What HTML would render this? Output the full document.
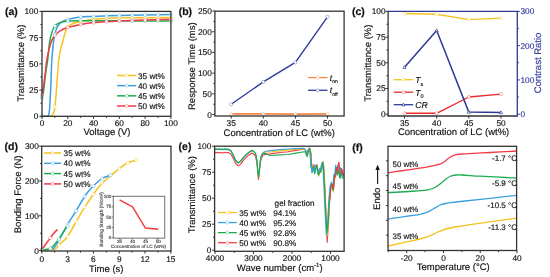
<!DOCTYPE html>
<html><head><meta charset="utf-8"><style>
html,body{margin:0;padding:0;background:#fff;width:550px;height:277px;overflow:hidden}
svg{display:block;filter:blur(0.3px)}
text{font-family:"Liberation Sans",sans-serif;text-rendering:geometricPrecision}
</style></head><body>
<svg width="550" height="277" viewBox="0 0 550 277" font-family="Liberation Sans, sans-serif">
<rect width="550" height="277" fill="#fff"/>
<text x="5" y="14.8" font-size="10.5" text-anchor="start" fill="#111" stroke="#111" stroke-width="0.2" font-weight="bold" font-style="normal" >(a)</text>
<path d="M42,116.3 C43.4,116.3 48.66,116.47 50.38,116.3 C52.1,116.13 51.71,116.04 52.31,115.25 C52.91,114.46 53.52,113.21 53.99,111.58 C54.46,109.95 54.68,109.95 55.15,105.5 C55.62,101.04 56.22,92.38 56.82,84.83 C57.43,77.28 58.11,66.12 58.76,60.18 C59.4,54.23 60.05,52.15 60.69,49.16 C61.34,46.17 61.87,45.04 62.62,42.24 C63.38,39.44 64.34,34.95 65.2,32.38 C66.06,29.81 66.49,28.31 67.78,26.82 C69.07,25.33 70.79,24.34 72.94,23.46 C75.08,22.59 77.23,22.29 80.67,21.58 C84.11,20.86 88.19,19.74 93.56,19.16 C98.93,18.59 106.45,18.34 112.89,18.11 C119.34,17.89 122.56,17.89 132.23,17.8 C141.9,17.71 164.46,17.62 170.9,17.59" fill="none" stroke="#F5C21B" stroke-width="1.5" stroke-linejoin="round" />
<path d="M42,116.3 C42.92,116.3 46.47,116.44 47.54,116.3 C48.62,116.16 48.12,116.51 48.45,115.46 C48.77,114.41 49.11,114.24 49.48,110.01 C49.84,105.78 50.25,98.38 50.64,90.07 C51.02,81.77 51.32,68.15 51.8,60.18 C52.27,52.21 52.96,46.61 53.47,42.24 C53.99,37.87 54.22,36.56 54.89,33.95 C55.56,31.35 56.39,28.59 57.47,26.61 C58.54,24.63 59.62,23.31 61.34,22.1 C63.05,20.89 64.56,20.23 67.78,19.37 C71,18.52 76.37,17.45 80.67,16.96 C84.97,16.47 87.12,16.66 93.56,16.44 C100,16.21 106.45,15.91 119.34,15.6 C132.23,15.28 162.31,14.72 170.9,14.55" fill="none" stroke="#3BA0DD" stroke-width="1.5" stroke-linejoin="round" />
<path d="M42,97.84 C42.21,97.07 42.82,96.09 43.29,93.22 C43.76,90.35 44.34,84.66 44.84,80.63 C45.33,76.61 45.78,72.5 46.25,69.09 C46.73,65.69 47.11,64.65 47.67,60.18 C48.23,55.7 48.87,46.96 49.61,42.24 C50.34,37.52 51.17,34.55 52.05,31.86 C52.94,29.16 53.77,27.54 54.89,26.09 C56.01,24.63 56.61,23.99 58.76,23.15 C60.91,22.31 64.13,21.47 67.78,21.05 C71.43,20.63 72.08,20.67 80.67,20.63 C89.26,20.6 104.3,20.77 119.34,20.84 C134.38,20.91 162.31,21.02 170.9,21.05" fill="none" stroke="#1EAA50" stroke-width="1.5" stroke-linejoin="round" />
<path d="M42,94.69 C42.21,93.57 42.82,91.02 43.29,87.98 C43.76,84.93 44.26,81.07 44.84,76.44 C45.42,71.8 46.06,64.72 46.77,60.18 C47.48,55.63 48.27,52.4 49.09,49.16 C49.91,45.93 50.7,43.04 51.67,40.77 C52.63,38.5 53.49,37.19 54.89,35.53 C56.29,33.87 57.9,32.14 60.05,30.81 C62.19,29.48 64.34,28.6 67.78,27.55 C71.22,26.51 76.24,25.33 80.67,24.51 C85.1,23.69 87.89,23.2 94.33,22.62 C100.78,22.05 110.88,21.49 119.34,21.05 C127.8,20.61 136.53,20.3 145.12,20 C153.71,19.7 166.6,19.39 170.9,19.27" fill="none" stroke="#F23A45" stroke-width="1.5" stroke-linejoin="round" />
<circle cx="42" cy="116.3" r="1.6" fill="#fff" stroke="#F5C21B" stroke-width="0.35"/>
<circle cx="54.89" cy="106.85" r="1.6" fill="#fff" stroke="#F5C21B" stroke-width="0.35"/>
<circle cx="67.78" cy="26.82" r="1.6" fill="#fff" stroke="#F5C21B" stroke-width="0.35"/>
<circle cx="80.67" cy="21.58" r="1.6" fill="#fff" stroke="#F5C21B" stroke-width="0.35"/>
<circle cx="93.56" cy="19.16" r="1.6" fill="#fff" stroke="#F5C21B" stroke-width="0.35"/>
<circle cx="106.45" cy="18.46" r="1.6" fill="#fff" stroke="#F5C21B" stroke-width="0.35"/>
<circle cx="119.34" cy="18.01" r="1.6" fill="#fff" stroke="#F5C21B" stroke-width="0.35"/>
<circle cx="132.23" cy="17.8" r="1.6" fill="#fff" stroke="#F5C21B" stroke-width="0.35"/>
<circle cx="145.12" cy="17.73" r="1.6" fill="#fff" stroke="#F5C21B" stroke-width="0.35"/>
<circle cx="158.01" cy="17.66" r="1.6" fill="#fff" stroke="#F5C21B" stroke-width="0.35"/>
<circle cx="170.9" cy="17.59" r="1.6" fill="#fff" stroke="#F5C21B" stroke-width="0.35"/>
<circle cx="42" cy="116.3" r="1.6" fill="#fff" stroke="#3BA0DD" stroke-width="0.35"/>
<circle cx="54.89" cy="33.95" r="1.6" fill="#fff" stroke="#3BA0DD" stroke-width="0.35"/>
<circle cx="67.78" cy="19.37" r="1.6" fill="#fff" stroke="#3BA0DD" stroke-width="0.35"/>
<circle cx="80.67" cy="16.96" r="1.6" fill="#fff" stroke="#3BA0DD" stroke-width="0.35"/>
<circle cx="93.56" cy="16.44" r="1.6" fill="#fff" stroke="#3BA0DD" stroke-width="0.35"/>
<circle cx="106.45" cy="16.02" r="1.6" fill="#fff" stroke="#3BA0DD" stroke-width="0.35"/>
<circle cx="119.34" cy="15.6" r="1.6" fill="#fff" stroke="#3BA0DD" stroke-width="0.35"/>
<circle cx="132.23" cy="15.33" r="1.6" fill="#fff" stroke="#3BA0DD" stroke-width="0.35"/>
<circle cx="145.12" cy="15.07" r="1.6" fill="#fff" stroke="#3BA0DD" stroke-width="0.35"/>
<circle cx="158.01" cy="14.81" r="1.6" fill="#fff" stroke="#3BA0DD" stroke-width="0.35"/>
<circle cx="170.9" cy="14.55" r="1.6" fill="#fff" stroke="#3BA0DD" stroke-width="0.35"/>
<circle cx="42" cy="97.84" r="1.6" fill="#fff" stroke="#1EAA50" stroke-width="0.35"/>
<circle cx="54.89" cy="26.09" r="1.6" fill="#fff" stroke="#1EAA50" stroke-width="0.35"/>
<circle cx="67.78" cy="21.05" r="1.6" fill="#fff" stroke="#1EAA50" stroke-width="0.35"/>
<circle cx="80.67" cy="20.63" r="1.6" fill="#fff" stroke="#1EAA50" stroke-width="0.35"/>
<circle cx="93.56" cy="20.7" r="1.6" fill="#fff" stroke="#1EAA50" stroke-width="0.35"/>
<circle cx="106.45" cy="20.77" r="1.6" fill="#fff" stroke="#1EAA50" stroke-width="0.35"/>
<circle cx="119.34" cy="20.84" r="1.6" fill="#fff" stroke="#1EAA50" stroke-width="0.35"/>
<circle cx="132.23" cy="20.89" r="1.6" fill="#fff" stroke="#1EAA50" stroke-width="0.35"/>
<circle cx="145.12" cy="20.95" r="1.6" fill="#fff" stroke="#1EAA50" stroke-width="0.35"/>
<circle cx="158.01" cy="21" r="1.6" fill="#fff" stroke="#1EAA50" stroke-width="0.35"/>
<circle cx="170.9" cy="21.05" r="1.6" fill="#fff" stroke="#1EAA50" stroke-width="0.35"/>
<circle cx="42" cy="94.69" r="1.6" fill="#fff" stroke="#F23A45" stroke-width="0.35"/>
<circle cx="54.89" cy="35.53" r="1.6" fill="#fff" stroke="#F23A45" stroke-width="0.35"/>
<circle cx="67.78" cy="27.55" r="1.6" fill="#fff" stroke="#F23A45" stroke-width="0.35"/>
<circle cx="80.67" cy="24.51" r="1.6" fill="#fff" stroke="#F23A45" stroke-width="0.35"/>
<circle cx="93.56" cy="22.73" r="1.6" fill="#fff" stroke="#F23A45" stroke-width="0.35"/>
<circle cx="106.45" cy="21.86" r="1.6" fill="#fff" stroke="#F23A45" stroke-width="0.35"/>
<circle cx="119.34" cy="21.05" r="1.6" fill="#fff" stroke="#F23A45" stroke-width="0.35"/>
<circle cx="132.23" cy="20.53" r="1.6" fill="#fff" stroke="#F23A45" stroke-width="0.35"/>
<circle cx="145.12" cy="20" r="1.6" fill="#fff" stroke="#F23A45" stroke-width="0.35"/>
<circle cx="158.01" cy="19.63" r="1.6" fill="#fff" stroke="#F23A45" stroke-width="0.35"/>
<circle cx="170.9" cy="19.27" r="1.6" fill="#fff" stroke="#F23A45" stroke-width="0.35"/>
<rect x="42" y="11.4" width="128.9" height="104.9" fill="none" stroke="#333" stroke-width="1.3"/>
<line x1="42" y1="116.3" x2="42" y2="118.9" stroke="#333" stroke-width="1.0" />
<text x="42" y="126.2" font-size="8.3" text-anchor="middle" fill="#111" stroke="#111" stroke-width="0.15" font-weight="normal" font-style="normal" >0</text>
<line x1="67.78" y1="116.3" x2="67.78" y2="118.9" stroke="#333" stroke-width="1.0" />
<text x="67.78" y="126.2" font-size="8.3" text-anchor="middle" fill="#111" stroke="#111" stroke-width="0.15" font-weight="normal" font-style="normal" >20</text>
<line x1="93.56" y1="116.3" x2="93.56" y2="118.9" stroke="#333" stroke-width="1.0" />
<text x="93.56" y="126.2" font-size="8.3" text-anchor="middle" fill="#111" stroke="#111" stroke-width="0.15" font-weight="normal" font-style="normal" >40</text>
<line x1="119.34" y1="116.3" x2="119.34" y2="118.9" stroke="#333" stroke-width="1.0" />
<text x="119.34" y="126.2" font-size="8.3" text-anchor="middle" fill="#111" stroke="#111" stroke-width="0.15" font-weight="normal" font-style="normal" >60</text>
<line x1="145.12" y1="116.3" x2="145.12" y2="118.9" stroke="#333" stroke-width="1.0" />
<text x="145.12" y="126.2" font-size="8.3" text-anchor="middle" fill="#111" stroke="#111" stroke-width="0.15" font-weight="normal" font-style="normal" >80</text>
<line x1="170.9" y1="116.3" x2="170.9" y2="118.9" stroke="#333" stroke-width="1.0" />
<text x="170.9" y="126.2" font-size="8.3" text-anchor="middle" fill="#111" stroke="#111" stroke-width="0.15" font-weight="normal" font-style="normal" >100</text>
<line x1="54.89" y1="116.3" x2="54.89" y2="117.9" stroke="#333" stroke-width="1.0" />
<line x1="80.67" y1="116.3" x2="80.67" y2="117.9" stroke="#333" stroke-width="1.0" />
<line x1="106.45" y1="116.3" x2="106.45" y2="117.9" stroke="#333" stroke-width="1.0" />
<line x1="132.23" y1="116.3" x2="132.23" y2="117.9" stroke="#333" stroke-width="1.0" />
<line x1="158.01" y1="116.3" x2="158.01" y2="117.9" stroke="#333" stroke-width="1.0" />
<line x1="42" y1="116.3" x2="39.4" y2="116.3" stroke="#333" stroke-width="1.0" />
<text x="38.3" y="119.29" font-size="8.3" text-anchor="end" fill="#111" stroke="#111" stroke-width="0.15" font-weight="normal" font-style="normal" >0</text>
<line x1="42" y1="90.07" x2="39.4" y2="90.07" stroke="#333" stroke-width="1.0" />
<text x="38.3" y="93.06" font-size="8.3" text-anchor="end" fill="#111" stroke="#111" stroke-width="0.15" font-weight="normal" font-style="normal" >25</text>
<line x1="42" y1="63.85" x2="39.4" y2="63.85" stroke="#333" stroke-width="1.0" />
<text x="38.3" y="66.84" font-size="8.3" text-anchor="end" fill="#111" stroke="#111" stroke-width="0.15" font-weight="normal" font-style="normal" >50</text>
<line x1="42" y1="37.62" x2="39.4" y2="37.62" stroke="#333" stroke-width="1.0" />
<text x="38.3" y="40.61" font-size="8.3" text-anchor="end" fill="#111" stroke="#111" stroke-width="0.15" font-weight="normal" font-style="normal" >75</text>
<line x1="42" y1="11.4" x2="39.4" y2="11.4" stroke="#333" stroke-width="1.0" />
<text x="38.3" y="14.39" font-size="8.3" text-anchor="end" fill="#111" stroke="#111" stroke-width="0.15" font-weight="normal" font-style="normal" >100</text>
<line x1="42" y1="103.19" x2="40.4" y2="103.19" stroke="#333" stroke-width="1.0" />
<line x1="42" y1="76.96" x2="40.4" y2="76.96" stroke="#333" stroke-width="1.0" />
<line x1="42" y1="50.74" x2="40.4" y2="50.74" stroke="#333" stroke-width="1.0" />
<line x1="42" y1="24.51" x2="40.4" y2="24.51" stroke="#333" stroke-width="1.0" />
<text x="0" y="0" font-size="9.5" text-anchor="middle" fill="#111" stroke="#111" stroke-width="0.15" transform="translate(21.7,63.2) rotate(-90)" dominant-baseline="central">Transmittance (%)</text>
<text x="107" y="135.3" font-size="9.5" text-anchor="middle" fill="#111" stroke="#111" stroke-width="0.15" font-weight="normal" font-style="normal" >Voltage (V)</text>
<line x1="117.1" y1="75.5" x2="136.3" y2="75.5" stroke="#F5C21B" stroke-width="1.5" />
<circle cx="126.6" cy="75.5" r="1.6" fill="#fff" stroke="#F5C21B" stroke-width="0.35"/>
<text x="138" y="78.5" font-size="8.2" text-anchor="start" fill="#111" stroke="#111" stroke-width="0.15" font-weight="normal" font-style="normal" >35 wt%</text>
<line x1="117.1" y1="85.67" x2="136.3" y2="85.67" stroke="#3BA0DD" stroke-width="1.5" />
<circle cx="126.6" cy="85.67" r="1.6" fill="#fff" stroke="#3BA0DD" stroke-width="0.35"/>
<text x="138" y="88.67" font-size="8.2" text-anchor="start" fill="#111" stroke="#111" stroke-width="0.15" font-weight="normal" font-style="normal" >40 wt%</text>
<line x1="117.1" y1="95.84" x2="136.3" y2="95.84" stroke="#1EAA50" stroke-width="1.5" />
<circle cx="126.6" cy="95.84" r="1.6" fill="#fff" stroke="#1EAA50" stroke-width="0.35"/>
<text x="138" y="98.84" font-size="8.2" text-anchor="start" fill="#111" stroke="#111" stroke-width="0.15" font-weight="normal" font-style="normal" >45 wt%</text>
<line x1="117.1" y1="106.01" x2="136.3" y2="106.01" stroke="#F23A45" stroke-width="1.5" />
<circle cx="126.6" cy="106.01" r="1.6" fill="#fff" stroke="#F23A45" stroke-width="0.35"/>
<text x="138" y="109.01" font-size="8.2" text-anchor="start" fill="#111" stroke="#111" stroke-width="0.15" font-weight="normal" font-style="normal" >50 wt%</text>
<text x="178.7" y="14.5" font-size="10.5" text-anchor="start" fill="#111" stroke="#111" stroke-width="0.2" font-weight="bold" font-style="normal" >(b)</text>
<path d="M231.2,113.94 L263.3,113.85 L295.4,114.06 L327.5,113.94" fill="none" stroke="#F5894A" stroke-width="1.8" stroke-linejoin="round" />
<path d="M231.2,104.24 L263.3,81.86 L295.4,62.39 L327.5,16.8" fill="none" stroke="#2E3A98" stroke-width="1.4" stroke-linejoin="round" />
<circle cx="231.2" cy="113.94" r="1.6" fill="#fff" stroke="#F5894A" stroke-width="0.35"/>
<circle cx="263.3" cy="113.85" r="1.6" fill="#fff" stroke="#F5894A" stroke-width="0.35"/>
<circle cx="295.4" cy="114.06" r="1.6" fill="#fff" stroke="#F5894A" stroke-width="0.35"/>
<circle cx="327.5" cy="113.94" r="1.6" fill="#fff" stroke="#F5894A" stroke-width="0.35"/>
<circle cx="231.2" cy="104.24" r="1.6" fill="#fff" stroke="#2E3A98" stroke-width="0.35"/>
<circle cx="263.3" cy="81.86" r="1.6" fill="#fff" stroke="#2E3A98" stroke-width="0.35"/>
<circle cx="295.4" cy="62.39" r="1.6" fill="#fff" stroke="#2E3A98" stroke-width="0.35"/>
<circle cx="327.5" cy="16.8" r="1.6" fill="#fff" stroke="#2E3A98" stroke-width="0.35"/>
<rect x="214.9" y="11.2" width="129.2" height="104.8" fill="none" stroke="#333" stroke-width="1.3"/>
<line x1="231.2" y1="116" x2="231.2" y2="118.6" stroke="#333" stroke-width="1.0" />
<text x="231.2" y="125.7" font-size="8.3" text-anchor="middle" fill="#111" stroke="#111" stroke-width="0.15" font-weight="normal" font-style="normal" >35</text>
<line x1="263.3" y1="116" x2="263.3" y2="118.6" stroke="#333" stroke-width="1.0" />
<text x="263.3" y="125.7" font-size="8.3" text-anchor="middle" fill="#111" stroke="#111" stroke-width="0.15" font-weight="normal" font-style="normal" >40</text>
<line x1="295.4" y1="116" x2="295.4" y2="118.6" stroke="#333" stroke-width="1.0" />
<text x="295.4" y="125.7" font-size="8.3" text-anchor="middle" fill="#111" stroke="#111" stroke-width="0.15" font-weight="normal" font-style="normal" >45</text>
<line x1="327.5" y1="116" x2="327.5" y2="118.6" stroke="#333" stroke-width="1.0" />
<text x="327.5" y="125.7" font-size="8.3" text-anchor="middle" fill="#111" stroke="#111" stroke-width="0.15" font-weight="normal" font-style="normal" >50</text>
<line x1="214.9" y1="114.6" x2="212.3" y2="114.6" stroke="#333" stroke-width="1.0" />
<text x="211.8" y="117.59" font-size="8.3" text-anchor="end" fill="#111" stroke="#111" stroke-width="0.15" font-weight="normal" font-style="normal" >0</text>
<line x1="214.9" y1="93.88" x2="212.3" y2="93.88" stroke="#333" stroke-width="1.0" />
<text x="211.8" y="96.87" font-size="8.3" text-anchor="end" fill="#111" stroke="#111" stroke-width="0.15" font-weight="normal" font-style="normal" >50</text>
<line x1="214.9" y1="73.16" x2="212.3" y2="73.16" stroke="#333" stroke-width="1.0" />
<text x="211.8" y="76.15" font-size="8.3" text-anchor="end" fill="#111" stroke="#111" stroke-width="0.15" font-weight="normal" font-style="normal" >100</text>
<line x1="214.9" y1="52.44" x2="212.3" y2="52.44" stroke="#333" stroke-width="1.0" />
<text x="211.8" y="55.43" font-size="8.3" text-anchor="end" fill="#111" stroke="#111" stroke-width="0.15" font-weight="normal" font-style="normal" >150</text>
<line x1="214.9" y1="31.72" x2="212.3" y2="31.72" stroke="#333" stroke-width="1.0" />
<text x="211.8" y="34.71" font-size="8.3" text-anchor="end" fill="#111" stroke="#111" stroke-width="0.15" font-weight="normal" font-style="normal" >200</text>
<line x1="214.9" y1="11" x2="212.3" y2="11" stroke="#333" stroke-width="1.0" />
<text x="211.8" y="13.99" font-size="8.3" text-anchor="end" fill="#111" stroke="#111" stroke-width="0.15" font-weight="normal" font-style="normal" >250</text>
<line x1="214.9" y1="104.24" x2="213.3" y2="104.24" stroke="#333" stroke-width="1.0" />
<line x1="214.9" y1="83.52" x2="213.3" y2="83.52" stroke="#333" stroke-width="1.0" />
<line x1="214.9" y1="62.8" x2="213.3" y2="62.8" stroke="#333" stroke-width="1.0" />
<line x1="214.9" y1="42.08" x2="213.3" y2="42.08" stroke="#333" stroke-width="1.0" />
<line x1="214.9" y1="21.36" x2="213.3" y2="21.36" stroke="#333" stroke-width="1.0" />
<text x="0" y="0" font-size="9.5" text-anchor="middle" fill="#111" stroke="#111" stroke-width="0.15" transform="translate(192.3,66.2) rotate(-90)" dominant-baseline="central">Response Time (ms)</text>
<text x="279.3" y="136" font-size="9.5" text-anchor="middle" fill="#111" stroke="#111" stroke-width="0.15" font-weight="normal" font-style="normal" >Concentration of LC (wt%)</text>
<line x1="308" y1="77.6" x2="327.5" y2="77.6" stroke="#F5894A" stroke-width="1.3" />
<circle cx="317.7" cy="77.6" r="1.6" fill="#fff" stroke="#F5894A" stroke-width="0.35"/>
<line x1="308" y1="90.3" x2="327.5" y2="90.3" stroke="#2E3A98" stroke-width="1.3" />
<circle cx="317.7" cy="90.3" r="1.6" fill="#fff" stroke="#2E3A98" stroke-width="0.35"/>
<text x="329.8" y="80.6" font-size="8.6" fill="#111" stroke="#111" stroke-width="0.15" font-style="italic">t<tspan font-size="5" dy="2.3" font-style="normal">on</tspan></text>
<text x="329.8" y="93.3" font-size="8.6" fill="#111" stroke="#111" stroke-width="0.15" font-style="italic">t<tspan font-size="5" dy="2.3" font-style="normal">off</tspan></text>
<text x="351.9" y="14.5" font-size="10.5" text-anchor="start" fill="#111" stroke="#111" stroke-width="0.2" font-weight="bold" font-style="normal" >(c)</text>
<path d="M404.5,13.5 L436.67,14.3 L468.84,19.6 L501.01,18.1" fill="none" stroke="#F5C21B" stroke-width="1.4" stroke-linejoin="round" />
<path d="M404.5,113.3 L436.67,113.3 L468.84,97 L501.01,94.1" fill="none" stroke="#EE2A2A" stroke-width="1.4" stroke-linejoin="round" />
<path d="M404.5,67.3 L436.67,30.5 L468.84,112.1 L501.01,112.5" fill="none" stroke="#2E3A98" stroke-width="1.5" stroke-linejoin="round" />
<circle cx="404.5" cy="13.5" r="1.6" fill="#fff" stroke="#F5C21B" stroke-width="0.35"/>
<circle cx="436.67" cy="14.3" r="1.6" fill="#fff" stroke="#F5C21B" stroke-width="0.35"/>
<circle cx="468.84" cy="19.6" r="1.6" fill="#fff" stroke="#F5C21B" stroke-width="0.35"/>
<circle cx="501.01" cy="18.1" r="1.6" fill="#fff" stroke="#F5C21B" stroke-width="0.35"/>
<circle cx="404.5" cy="113.3" r="1.6" fill="#fff" stroke="#EE2A2A" stroke-width="0.35"/>
<circle cx="436.67" cy="113.3" r="1.6" fill="#fff" stroke="#EE2A2A" stroke-width="0.35"/>
<circle cx="468.84" cy="97" r="1.6" fill="#fff" stroke="#EE2A2A" stroke-width="0.35"/>
<circle cx="501.01" cy="94.1" r="1.6" fill="#fff" stroke="#EE2A2A" stroke-width="0.35"/>
<path d="M404.5,65.7 L406.1,68.42 L402.9,68.42 Z" fill="#fff" stroke="#2E3A98" stroke-width="0.7"/>
<path d="M436.67,28.9 L438.27,31.62 L435.07,31.62 Z" fill="#fff" stroke="#2E3A98" stroke-width="0.7"/>
<path d="M468.84,110.5 L470.44,113.22 L467.24,113.22 Z" fill="#fff" stroke="#2E3A98" stroke-width="0.7"/>
<path d="M501.01,110.9 L502.61,113.62 L499.41,113.62 Z" fill="#fff" stroke="#2E3A98" stroke-width="0.7"/>
<line x1="388.1" y1="11.4" x2="388.1" y2="116" stroke="#333" stroke-width="1.3" />
<line x1="387.45" y1="116" x2="517.3" y2="116" stroke="#333" stroke-width="1.3" />
<line x1="387.45" y1="11.4" x2="517.95" y2="11.4" stroke="#2E3A98" stroke-width="1.3" />
<line x1="517.3" y1="11.4" x2="517.3" y2="116.65" stroke="#2E3A98" stroke-width="1.3" />
<line x1="404.5" y1="116" x2="404.5" y2="118.6" stroke="#333" stroke-width="1.0" />
<text x="404.5" y="125.5" font-size="8.3" text-anchor="middle" fill="#111" stroke="#111" stroke-width="0.15" font-weight="normal" font-style="normal" >35</text>
<line x1="436.67" y1="116" x2="436.67" y2="118.6" stroke="#333" stroke-width="1.0" />
<text x="436.67" y="125.5" font-size="8.3" text-anchor="middle" fill="#111" stroke="#111" stroke-width="0.15" font-weight="normal" font-style="normal" >40</text>
<line x1="468.84" y1="116" x2="468.84" y2="118.6" stroke="#333" stroke-width="1.0" />
<text x="468.84" y="125.5" font-size="8.3" text-anchor="middle" fill="#111" stroke="#111" stroke-width="0.15" font-weight="normal" font-style="normal" >45</text>
<line x1="501.01" y1="116" x2="501.01" y2="118.6" stroke="#333" stroke-width="1.0" />
<text x="501.01" y="125.5" font-size="8.3" text-anchor="middle" fill="#111" stroke="#111" stroke-width="0.15" font-weight="normal" font-style="normal" >50</text>
<line x1="388.1" y1="114.2" x2="385.5" y2="114.2" stroke="#333" stroke-width="1.0" />
<text x="385.5" y="117.19" font-size="8.3" text-anchor="end" fill="#111" stroke="#111" stroke-width="0.15" font-weight="normal" font-style="normal" >0</text>
<line x1="388.1" y1="88.5" x2="385.5" y2="88.5" stroke="#333" stroke-width="1.0" />
<text x="385.5" y="91.49" font-size="8.3" text-anchor="end" fill="#111" stroke="#111" stroke-width="0.15" font-weight="normal" font-style="normal" >25</text>
<line x1="388.1" y1="62.8" x2="385.5" y2="62.8" stroke="#333" stroke-width="1.0" />
<text x="385.5" y="65.79" font-size="8.3" text-anchor="end" fill="#111" stroke="#111" stroke-width="0.15" font-weight="normal" font-style="normal" >50</text>
<line x1="388.1" y1="37.1" x2="385.5" y2="37.1" stroke="#333" stroke-width="1.0" />
<text x="385.5" y="40.09" font-size="8.3" text-anchor="end" fill="#111" stroke="#111" stroke-width="0.15" font-weight="normal" font-style="normal" >75</text>
<line x1="388.1" y1="11.4" x2="385.5" y2="11.4" stroke="#333" stroke-width="1.0" />
<text x="385.5" y="14.39" font-size="8.3" text-anchor="end" fill="#111" stroke="#111" stroke-width="0.15" font-weight="normal" font-style="normal" >100</text>
<line x1="388.1" y1="101.35" x2="386.5" y2="101.35" stroke="#333" stroke-width="1.0" />
<line x1="388.1" y1="75.65" x2="386.5" y2="75.65" stroke="#333" stroke-width="1.0" />
<line x1="388.1" y1="49.95" x2="386.5" y2="49.95" stroke="#333" stroke-width="1.0" />
<line x1="388.1" y1="24.25" x2="386.5" y2="24.25" stroke="#333" stroke-width="1.0" />
<line x1="517.3" y1="114.2" x2="519.9" y2="114.2" stroke="#2E3A98" stroke-width="1.0" />
<text x="520.5" y="117.19" font-size="8.3" text-anchor="start" fill="#2E3A98" stroke="#2E3A98" stroke-width="0.15" font-weight="normal" font-style="normal" >0</text>
<line x1="517.3" y1="79.93" x2="519.9" y2="79.93" stroke="#2E3A98" stroke-width="1.0" />
<text x="520.5" y="82.92" font-size="8.3" text-anchor="start" fill="#2E3A98" stroke="#2E3A98" stroke-width="0.15" font-weight="normal" font-style="normal" >100</text>
<line x1="517.3" y1="45.67" x2="519.9" y2="45.67" stroke="#2E3A98" stroke-width="1.0" />
<text x="520.5" y="48.65" font-size="8.3" text-anchor="start" fill="#2E3A98" stroke="#2E3A98" stroke-width="0.15" font-weight="normal" font-style="normal" >200</text>
<line x1="517.3" y1="11.4" x2="519.9" y2="11.4" stroke="#2E3A98" stroke-width="1.0" />
<text x="520.5" y="14.39" font-size="8.3" text-anchor="start" fill="#2E3A98" stroke="#2E3A98" stroke-width="0.15" font-weight="normal" font-style="normal" >300</text>
<line x1="517.3" y1="97.07" x2="518.9" y2="97.07" stroke="#2E3A98" stroke-width="1.0" />
<line x1="517.3" y1="62.8" x2="518.9" y2="62.8" stroke="#2E3A98" stroke-width="1.0" />
<line x1="517.3" y1="28.53" x2="518.9" y2="28.53" stroke="#2E3A98" stroke-width="1.0" />
<text x="0" y="0" font-size="9.5" text-anchor="middle" fill="#111" stroke="#111" stroke-width="0.15" transform="translate(368,63.2) rotate(-90)" dominant-baseline="central">Transmittance (%)</text>
<text x="0" y="0" font-size="9.5" text-anchor="middle" fill="#2E3A98" stroke="#2E3A98" stroke-width="0.15" transform="translate(538.7,63) rotate(-90)" dominant-baseline="central">Contrast Ratio</text>
<text x="453.6" y="135.4" font-size="9.5" text-anchor="middle" fill="#111" stroke="#111" stroke-width="0.15" font-weight="normal" font-style="normal" >Concentration of LC (wt%)</text>
<line x1="393.7" y1="79.7" x2="413.2" y2="79.7" stroke="#F5C21B" stroke-width="1.3" />
<circle cx="403.4" cy="79.7" r="1.6" fill="#fff" stroke="#F5C21B" stroke-width="0.35"/>
<line x1="393.7" y1="92.2" x2="413.2" y2="92.2" stroke="#EE2A2A" stroke-width="1.3" />
<circle cx="403.4" cy="92.2" r="1.6" fill="#fff" stroke="#EE2A2A" stroke-width="0.35"/>
<line x1="393.7" y1="104.7" x2="413.2" y2="104.7" stroke="#2E3A98" stroke-width="1.3" />
<path d="M403.4,103.1 L405,105.82 L401.8,105.82 Z" fill="#fff" stroke="#2E3A98" stroke-width="0.7"/>
<text x="415.3" y="83" font-size="8.6" fill="#111" stroke="#111" stroke-width="0.15" font-style="italic">T<tspan font-size="5.5" dy="2.5" font-style="normal">s</tspan></text>
<text x="415.3" y="95.6" font-size="8.6" fill="#111" stroke="#111" stroke-width="0.15" font-style="italic">T<tspan font-size="5.5" dy="2.5" font-style="normal">0</tspan></text>
<text x="415.3" y="108" font-size="8.6" fill="#111" stroke="#111" stroke-width="0.15" font-style="italic">CR</text>
<text x="4.5" y="150.1" font-size="10.5" text-anchor="start" fill="#111" stroke="#111" stroke-width="0.2" font-weight="bold" font-style="normal" >(d)</text>
<path d="M41.8,250 C43.5,250 49.63,250.25 52,250 C54.37,249.75 54.68,249.5 56,248.5 C57.32,247.5 58.08,245.83 59.9,244 C61.72,242.17 64.5,240.67 66.9,237.5 C69.3,234.33 71.27,230.13 74.3,225 C77.33,219.87 80.88,213.18 85.1,206.7 C89.32,200.22 95.08,191.47 99.6,186.1 C104.12,180.73 107.7,178.28 112.2,174.5 C116.7,170.72 122.38,165.82 126.6,163.4 C130.82,160.98 135.68,160.57 137.5,160" fill="none" stroke="#F5C21B" stroke-width="1.5" stroke-linejoin="round" />
<path d="M41.8,250 C43.17,249.92 47.97,249.83 50,249.5 C52.03,249.17 52.67,249.25 54,248 C55.33,246.75 56.75,244.05 58,242 C59.25,239.95 59.87,238.7 61.5,235.7 C63.13,232.7 65.4,228.07 67.8,224 C70.2,219.93 72.72,216.42 75.9,211.3 C79.08,206.18 83.25,198.22 86.9,193.3 C90.55,188.38 94.95,184.43 97.8,181.8 C100.65,179.17 101.9,178.58 104,177.5 C106.1,176.42 109.33,175.67 110.4,175.3" fill="none" stroke="#3BA0DD" stroke-width="1.5" stroke-linejoin="round" />
<path d="M41.8,250 C42.5,249.92 44.53,249.78 46,249.5 C47.47,249.22 49.1,249.22 50.6,248.3 C52.1,247.38 53.55,245.65 55,244 C56.45,242.35 57.88,240.4 59.3,238.4 C60.72,236.4 62.18,234.02 63.5,232 C64.82,229.98 66.58,227.25 67.2,226.3" fill="none" stroke="#1EAA50" stroke-width="1.5" stroke-linejoin="round" />
<path d="M41.6,250.1 C42.25,249.17 44.15,246.37 45.5,244.5 C46.85,242.63 48.35,240.73 49.7,238.9 C51.05,237.07 52.3,235.08 53.6,233.5 C54.9,231.92 56.85,230.08 57.5,229.4" fill="none" stroke="#F23A45" stroke-width="1.5" stroke-linejoin="round" />
<circle cx="41.8" cy="250" r="1.6" fill="#fff" stroke="#F5C21B" stroke-width="0.35"/>
<circle cx="50.4" cy="250.09" r="1.6" fill="#fff" stroke="#F5C21B" stroke-width="0.35"/>
<circle cx="59" cy="244.99" r="1.6" fill="#fff" stroke="#F5C21B" stroke-width="0.35"/>
<circle cx="67.6" cy="236.53" r="1.6" fill="#fff" stroke="#F5C21B" stroke-width="0.35"/>
<circle cx="76.2" cy="221.72" r="1.6" fill="#fff" stroke="#F5C21B" stroke-width="0.35"/>
<circle cx="84.8" cy="207.17" r="1.6" fill="#fff" stroke="#F5C21B" stroke-width="0.35"/>
<circle cx="93.4" cy="194.31" r="1.6" fill="#fff" stroke="#F5C21B" stroke-width="0.35"/>
<circle cx="102" cy="183.42" r="1.6" fill="#fff" stroke="#F5C21B" stroke-width="0.35"/>
<circle cx="110.6" cy="175.82" r="1.6" fill="#fff" stroke="#F5C21B" stroke-width="0.35"/>
<circle cx="119.2" cy="168.68" r="1.6" fill="#fff" stroke="#F5C21B" stroke-width="0.35"/>
<circle cx="127.8" cy="162.77" r="1.6" fill="#fff" stroke="#F5C21B" stroke-width="0.35"/>
<circle cx="136.4" cy="160.27" r="1.6" fill="#fff" stroke="#F5C21B" stroke-width="0.35"/>
<circle cx="41.8" cy="250" r="1.6" fill="#fff" stroke="#3BA0DD" stroke-width="0.35"/>
<circle cx="50.4" cy="249.44" r="1.6" fill="#fff" stroke="#3BA0DD" stroke-width="0.35"/>
<circle cx="59" cy="240.3" r="1.6" fill="#fff" stroke="#3BA0DD" stroke-width="0.35"/>
<circle cx="67.6" cy="224.34" r="1.6" fill="#fff" stroke="#3BA0DD" stroke-width="0.35"/>
<circle cx="76.2" cy="210.81" r="1.6" fill="#fff" stroke="#3BA0DD" stroke-width="0.35"/>
<circle cx="84.8" cy="196.35" r="1.6" fill="#fff" stroke="#3BA0DD" stroke-width="0.35"/>
<circle cx="93.4" cy="185.95" r="1.6" fill="#fff" stroke="#3BA0DD" stroke-width="0.35"/>
<circle cx="102" cy="178.56" r="1.6" fill="#fff" stroke="#3BA0DD" stroke-width="0.35"/>
<circle cx="110.6" cy="175.3" r="1.6" fill="#fff" stroke="#3BA0DD" stroke-width="0.35"/>
<circle cx="41.8" cy="250" r="1.6" fill="#fff" stroke="#1EAA50" stroke-width="0.35"/>
<circle cx="50.4" cy="248.42" r="1.6" fill="#fff" stroke="#1EAA50" stroke-width="0.35"/>
<circle cx="59" cy="238.82" r="1.6" fill="#fff" stroke="#1EAA50" stroke-width="0.35"/>
<circle cx="67.6" cy="226.3" r="1.6" fill="#fff" stroke="#1EAA50" stroke-width="0.35"/>
<circle cx="41.8" cy="249.81" r="1.6" fill="#fff" stroke="#F23A45" stroke-width="0.35"/>
<circle cx="50.4" cy="237.93" r="1.6" fill="#fff" stroke="#F23A45" stroke-width="0.35"/>
<rect x="41.7" y="146.2" width="129.3" height="104.8" fill="none" stroke="#333" stroke-width="1.3"/>
<line x1="41.8" y1="251" x2="41.8" y2="253.6" stroke="#333" stroke-width="1.0" />
<text x="41.8" y="261.7" font-size="8.3" text-anchor="middle" fill="#111" stroke="#111" stroke-width="0.15" font-weight="normal" font-style="normal" >0</text>
<line x1="67.6" y1="251" x2="67.6" y2="253.6" stroke="#333" stroke-width="1.0" />
<text x="67.6" y="261.7" font-size="8.3" text-anchor="middle" fill="#111" stroke="#111" stroke-width="0.15" font-weight="normal" font-style="normal" >3</text>
<line x1="93.4" y1="251" x2="93.4" y2="253.6" stroke="#333" stroke-width="1.0" />
<text x="93.4" y="261.7" font-size="8.3" text-anchor="middle" fill="#111" stroke="#111" stroke-width="0.15" font-weight="normal" font-style="normal" >6</text>
<line x1="119.2" y1="251" x2="119.2" y2="253.6" stroke="#333" stroke-width="1.0" />
<text x="119.2" y="261.7" font-size="8.3" text-anchor="middle" fill="#111" stroke="#111" stroke-width="0.15" font-weight="normal" font-style="normal" >9</text>
<line x1="145" y1="251" x2="145" y2="253.6" stroke="#333" stroke-width="1.0" />
<text x="145" y="261.7" font-size="8.3" text-anchor="middle" fill="#111" stroke="#111" stroke-width="0.15" font-weight="normal" font-style="normal" >12</text>
<line x1="170.8" y1="251" x2="170.8" y2="253.6" stroke="#333" stroke-width="1.0" />
<text x="170.8" y="261.7" font-size="8.3" text-anchor="middle" fill="#111" stroke="#111" stroke-width="0.15" font-weight="normal" font-style="normal" >15</text>
<line x1="54.7" y1="251" x2="54.7" y2="252.6" stroke="#333" stroke-width="1.0" />
<line x1="80.5" y1="251" x2="80.5" y2="252.6" stroke="#333" stroke-width="1.0" />
<line x1="106.3" y1="251" x2="106.3" y2="252.6" stroke="#333" stroke-width="1.0" />
<line x1="132.1" y1="251" x2="132.1" y2="252.6" stroke="#333" stroke-width="1.0" />
<line x1="157.9" y1="251" x2="157.9" y2="252.6" stroke="#333" stroke-width="1.0" />
<line x1="41.7" y1="250.6" x2="39.1" y2="250.6" stroke="#333" stroke-width="1.0" />
<text x="38.8" y="253.59" font-size="8.3" text-anchor="end" fill="#111" stroke="#111" stroke-width="0.15" font-weight="normal" font-style="normal" >0</text>
<line x1="41.7" y1="215.8" x2="39.1" y2="215.8" stroke="#333" stroke-width="1.0" />
<text x="38.8" y="218.79" font-size="8.3" text-anchor="end" fill="#111" stroke="#111" stroke-width="0.15" font-weight="normal" font-style="normal" >100</text>
<line x1="41.7" y1="181" x2="39.1" y2="181" stroke="#333" stroke-width="1.0" />
<text x="38.8" y="183.99" font-size="8.3" text-anchor="end" fill="#111" stroke="#111" stroke-width="0.15" font-weight="normal" font-style="normal" >200</text>
<line x1="41.7" y1="146.2" x2="39.1" y2="146.2" stroke="#333" stroke-width="1.0" />
<text x="38.8" y="149.19" font-size="8.3" text-anchor="end" fill="#111" stroke="#111" stroke-width="0.15" font-weight="normal" font-style="normal" >300</text>
<line x1="41.7" y1="233.2" x2="40.1" y2="233.2" stroke="#333" stroke-width="1.0" />
<line x1="41.7" y1="198.4" x2="40.1" y2="198.4" stroke="#333" stroke-width="1.0" />
<line x1="41.7" y1="163.6" x2="40.1" y2="163.6" stroke="#333" stroke-width="1.0" />
<text x="0" y="0" font-size="9.5" text-anchor="middle" fill="#111" stroke="#111" stroke-width="0.15" transform="translate(18.8,194.4) rotate(-90)" dominant-baseline="central">Bonding Force (N)</text>
<text x="106.3" y="272" font-size="9.5" text-anchor="middle" fill="#111" stroke="#111" stroke-width="0.15" font-weight="normal" font-style="normal" >Time (s)</text>
<line x1="44.1" y1="153" x2="61.1" y2="153" stroke="#F5C21B" stroke-width="1.5" />
<circle cx="52.6" cy="153" r="1.6" fill="#fff" stroke="#F5C21B" stroke-width="0.35"/>
<text x="63.6" y="156" font-size="8.2" text-anchor="start" fill="#111" stroke="#111" stroke-width="0.15" font-weight="normal" font-style="normal" >35 wt%</text>
<line x1="44.1" y1="163.3" x2="61.1" y2="163.3" stroke="#3BA0DD" stroke-width="1.5" />
<circle cx="52.6" cy="163.3" r="1.6" fill="#fff" stroke="#3BA0DD" stroke-width="0.35"/>
<text x="63.6" y="166.3" font-size="8.2" text-anchor="start" fill="#111" stroke="#111" stroke-width="0.15" font-weight="normal" font-style="normal" >40 wt%</text>
<line x1="44.1" y1="173.6" x2="61.1" y2="173.6" stroke="#1EAA50" stroke-width="1.5" />
<circle cx="52.6" cy="173.6" r="1.6" fill="#fff" stroke="#1EAA50" stroke-width="0.35"/>
<text x="63.6" y="176.6" font-size="8.2" text-anchor="start" fill="#111" stroke="#111" stroke-width="0.15" font-weight="normal" font-style="normal" >45 wt%</text>
<line x1="44.1" y1="183.9" x2="61.1" y2="183.9" stroke="#F23A45" stroke-width="1.5" />
<circle cx="52.6" cy="183.9" r="1.6" fill="#fff" stroke="#F23A45" stroke-width="0.35"/>
<text x="63.6" y="186.9" font-size="8.2" text-anchor="start" fill="#111" stroke="#111" stroke-width="0.15" font-weight="normal" font-style="normal" >50 wt%</text>
<rect x="113.2" y="196.2" width="51.6" height="41.9" fill="#fff" stroke="#333" stroke-width="0.7"/>
<path d="M119.6,199.92 L132.53,206.96 L145.46,228.07 L158.39,229.31" fill="none" stroke="#F23A3A" stroke-width="1.4" stroke-linejoin="round" />
<line x1="119.6" y1="238.1" x2="119.6" y2="239.4" stroke="#333" stroke-width="0.6" />
<text x="119.6" y="243.1" font-size="4.6" text-anchor="middle" fill="#444" stroke="#444" stroke-width="0.15" font-weight="normal" font-style="normal" >35</text>
<line x1="132.53" y1="238.1" x2="132.53" y2="239.4" stroke="#333" stroke-width="0.6" />
<text x="132.53" y="243.1" font-size="4.6" text-anchor="middle" fill="#444" stroke="#444" stroke-width="0.15" font-weight="normal" font-style="normal" >40</text>
<line x1="145.46" y1="238.1" x2="145.46" y2="239.4" stroke="#333" stroke-width="0.6" />
<text x="145.46" y="243.1" font-size="4.6" text-anchor="middle" fill="#444" stroke="#444" stroke-width="0.15" font-weight="normal" font-style="normal" >45</text>
<line x1="158.39" y1="238.1" x2="158.39" y2="239.4" stroke="#333" stroke-width="0.6" />
<text x="158.39" y="243.1" font-size="4.6" text-anchor="middle" fill="#444" stroke="#444" stroke-width="0.15" font-weight="normal" font-style="normal" >50</text>
<line x1="113.2" y1="237.8" x2="111.9" y2="237.8" stroke="#333" stroke-width="0.6" />
<text x="111.4" y="239.4" font-size="4.6" text-anchor="end" fill="#444" stroke="#444" stroke-width="0.15" font-weight="normal" font-style="normal" >0</text>
<line x1="113.2" y1="227.45" x2="111.9" y2="227.45" stroke="#333" stroke-width="0.6" />
<text x="111.4" y="229.05" font-size="4.6" text-anchor="end" fill="#444" stroke="#444" stroke-width="0.15" font-weight="normal" font-style="normal" >25</text>
<line x1="113.2" y1="217.1" x2="111.9" y2="217.1" stroke="#333" stroke-width="0.6" />
<text x="111.4" y="218.7" font-size="4.6" text-anchor="end" fill="#444" stroke="#444" stroke-width="0.15" font-weight="normal" font-style="normal" >50</text>
<line x1="113.2" y1="206.75" x2="111.9" y2="206.75" stroke="#333" stroke-width="0.6" />
<text x="111.4" y="208.35" font-size="4.6" text-anchor="end" fill="#444" stroke="#444" stroke-width="0.15" font-weight="normal" font-style="normal" >75</text>
<line x1="113.2" y1="196.4" x2="111.9" y2="196.4" stroke="#333" stroke-width="0.6" />
<text x="111.4" y="198" font-size="4.6" text-anchor="end" fill="#444" stroke="#444" stroke-width="0.15" font-weight="normal" font-style="normal" >100</text>
<text x="138.4" y="248.4" font-size="4.7" text-anchor="middle" fill="#444" stroke="#444" stroke-width="0.15" font-weight="normal" font-style="normal" >Concentration of LC (wt%)</text>
<text x="0" y="0" font-size="4.8" text-anchor="middle" fill="#444" stroke="#444" stroke-width="0.15" transform="translate(102.2,219.4) rotate(-90)" dominant-baseline="central">Bonding Strength (N/cm<tspan dy="-1.5" font-size="3.5">2</tspan><tspan dy="1.5">)</tspan></text>
<text x="178.6" y="150.3" font-size="10.5" text-anchor="start" fill="#111" stroke="#111" stroke-width="0.2" font-weight="bold" font-style="normal" >(e)</text>
<path d="M214.8,152.79 L216,152.36 L217.5,152.84 L219,152.41 L220.5,152.89 L222,152.46 L223.5,152.93 L225,152.31 L226.5,152.68 L228,152.45 L229,152.84 L231,154.2 L233,157.74 L235.5,163.37 L238,165.8 L240.5,164.37 L243,160.94 L246,157.7 L249,154.96 L251.5,153.23 L253.2,153.61 L255.5,156.08 L256.8,162.56 L257.8,172.55 L258.5,179.54 L259.2,174.53 L260,165.53 L261,159.51 L262.5,156.05 L264,154.7 L266,154.1 L270,153.9 L280,152.57 L288,151.7 L296,150.35 L304,149 L306,150.18 L307.3,155.57 L308.5,151.47 L310,148.24 L311,153.3 L311.7,164.35 L313,168.37 L314,164.48 L315,171.68 L316,167.33 L317.1,164.7 L318,170.86 L319,174.68 L320,168.33 L321,171.24 L322,165.9 L323.2,161.98 L324,169.1 L325,190.3 L326,212.3 L327.2,242.5 L328.5,222.3 L329.7,200.3 L331,185.64 L332.3,184.26 L333.5,188.96 L334.7,175.72 L335.5,177.03 L336.6,167.6 L337.5,171.09 L338.8,162.42 L339.7,169.8 L340.5,174.38 L341.5,168.66 L342.5,171.4 L343.5,175.91" fill="none" stroke="#F23A45" stroke-width="1.1" stroke-linejoin="round"/>
<path d="M214.8,149.5 L216,149.1 L217.5,149.6 L219,149.2 L220.5,149.7 L222,149.3 L223.5,149.8 L225,149.2 L226.5,149.6 L228,149.4 L229,149.8 L231,151.2 L233,154.8 L235.5,160.5 L238,163 L240.5,161.6 L243,158.2 L246,155 L249,152.3 L251.5,150.6 L253.2,151 L255.5,153.5 L256.8,160 L257.8,170 L258.5,177 L259.2,172 L260,163 L261,157 L262.5,153.59 L264,152.35 L266,151.9 L270,152 L280,150.83 L288,150.1 L296,149.4 L304,148.7 L305.8,149.95 L307.1,155.41 L308.3,151.37 L309.8,148.22 L310.8,153.3 L311.5,165.19 L312.8,168.44 L313.8,166.82 L314.8,172.23 L315.8,168.44 L316.9,166.35 L317.8,171.33 L318.8,176.12 L319.8,169.85 L320.8,171.63 L321.8,165.33 L323,161.83 L323.8,169.32 L324.8,190.3 L325.8,212.3 L327,236 L328.3,222.3 L329.5,200.31 L330.8,187.29 L332.1,185.87 L333.3,192.2 L334.5,179.57 L335.3,178.09 L336.4,167.73 L337.3,172.58 L338.6,163.63 L339.5,170.08 L340.3,177.93 L341.3,171.24 L342.3,174.12 L343.5,175.93" fill="none" stroke="#F5C21B" stroke-width="1.1" stroke-linejoin="round"/>
<path d="M214.8,149.5 L216,149.1 L217.5,149.6 L219,149.2 L220.5,149.7 L222,149.3 L223.5,149.8 L225,149.2 L226.5,149.6 L228,149.4 L229,149.8 L231,151.2 L233,154.8 L235.5,160.5 L238,163 L240.5,161.6 L243,158.2 L246,155 L249,152.3 L251.5,150.6 L253.2,151 L255.5,153.5 L256.8,160 L257.8,170 L258.5,177 L259.2,172 L260,163 L261,157 L262.5,153.5 L264,152 L266,151.2 L270,150.6 L280,149.6 L288,149 L296,148.6 L304,148.2 L305.1,149.5 L306.4,155 L307.6,151 L309.1,147.9 L310.1,153 L310.8,165.03 L312.1,172.72 L313.1,168.22 L314.1,171.2 L315.1,166.83 L316.2,164.7 L317.1,169.46 L318.1,174.74 L319.1,168.96 L320.1,170.74 L321.1,166.14 L322.3,162.39 L323.1,169.15 L324.1,190 L325.1,212 L326.3,235 L327.6,222 L328.8,200 L330.1,185.86 L331.4,182.19 L332.6,189.97 L333.8,174.66 L334.6,175.6 L335.7,164.94 L336.6,172.41 L337.9,164.66 L338.8,171.69 L339.6,177.61 L340.6,167.58 L341.6,171.07 L343.5,177" fill="none" stroke="#3BA0DD" stroke-width="1.1" stroke-linejoin="round"/>
<path d="M214.8,149.1 L216,148.7 L217.5,149.2 L219,148.8 L220.5,149.3 L222,148.9 L223.5,149.4 L225,148.8 L226.5,149.2 L228,149 L229,149.4 L231,150.8 L233,154.43 L235.5,160.16 L238,162.69 L240.5,161.32 L243,157.95 L246,154.79 L249,152.13 L251.5,150.46 L253.2,150.89 L255.5,153.42 L256.8,159.93 L257.8,169.95 L258.5,176.95 L259.2,171.96 L260,162.97 L261,156.99 L262.5,153.81 L264,153.22 L266,153.65 L270,155.5 L280,154.83 L288,154.5 L296,153.1 L304,151.7 L305.7,152 L307,156.63 L308.2,152.33 L309.7,148.98 L310.7,154 L311.4,165.42 L312.7,169.44 L313.7,166.94 L314.7,173.84 L315.7,168.25 L316.8,165.37 L317.7,170.28 L318.7,175.08 L319.7,171.85 L320.7,172.4 L321.7,167.81 L322.9,162.39 L323.7,170.52 L324.7,191 L325.7,213 L326.9,233 L328.2,223 L329.4,201 L330.7,186.84 L332,184.81 L333.2,190.26 L334.4,175.83 L335.2,176.46 L336.3,167.24 L337.2,174.94 L338.5,170.61 L339.4,175.38 L340.2,178.34 L341.2,171.58 L342.2,177.08 L343.5,178.81" fill="none" stroke="#1EAA50" stroke-width="1.1" stroke-linejoin="round"/>
<path d="M329.7,200.3 L331,185.64 L332.3,184.26 L333.5,188.96 L334.7,175.72 L335.5,177.03 L336.6,167.6 L337.5,171.09 L338.8,162.42 L339.7,169.8 L340.5,174.38 L341.5,168.66 L342.5,171.4 L343.5,175.91" fill="none" stroke="#F23A45" stroke-width="1.0" stroke-linejoin="round"/>
<path d="M310.1,153 L310.8,165.03 L312.1,172.72 L313.1,168.22 L314.1,171.2 L315.1,166.83" fill="none" stroke="#3BA0DD" stroke-width="1.0" stroke-linejoin="round"/>
<rect x="214.6" y="146.2" width="129.5" height="105.1" fill="none" stroke="#333" stroke-width="1.3"/>
<line x1="215" y1="251.3" x2="215" y2="253.9" stroke="#333" stroke-width="1.0" />
<text x="215" y="261.3" font-size="8.3" text-anchor="middle" fill="#111" stroke="#111" stroke-width="0.15" font-weight="normal" font-style="normal" >4000</text>
<line x1="253.5" y1="251.3" x2="253.5" y2="253.9" stroke="#333" stroke-width="1.0" />
<text x="253.5" y="261.3" font-size="8.3" text-anchor="middle" fill="#111" stroke="#111" stroke-width="0.15" font-weight="normal" font-style="normal" >3000</text>
<line x1="292" y1="251.3" x2="292" y2="253.9" stroke="#333" stroke-width="1.0" />
<text x="292" y="261.3" font-size="8.3" text-anchor="middle" fill="#111" stroke="#111" stroke-width="0.15" font-weight="normal" font-style="normal" >2000</text>
<line x1="330.5" y1="251.3" x2="330.5" y2="253.9" stroke="#333" stroke-width="1.0" />
<text x="330.5" y="261.3" font-size="8.3" text-anchor="middle" fill="#111" stroke="#111" stroke-width="0.15" font-weight="normal" font-style="normal" >1000</text>
<line x1="234.25" y1="251.3" x2="234.25" y2="252.9" stroke="#333" stroke-width="1.0" />
<line x1="272.75" y1="251.3" x2="272.75" y2="252.9" stroke="#333" stroke-width="1.0" />
<line x1="311.25" y1="251.3" x2="311.25" y2="252.9" stroke="#333" stroke-width="1.0" />
<line x1="214.6" y1="250.2" x2="212" y2="250.2" stroke="#333" stroke-width="1.0" />
<text x="211.3" y="253.19" font-size="8.3" text-anchor="end" fill="#111" stroke="#111" stroke-width="0.15" font-weight="normal" font-style="normal" >0</text>
<line x1="214.6" y1="224.2" x2="212" y2="224.2" stroke="#333" stroke-width="1.0" />
<text x="211.3" y="227.19" font-size="8.3" text-anchor="end" fill="#111" stroke="#111" stroke-width="0.15" font-weight="normal" font-style="normal" >25</text>
<line x1="214.6" y1="198.2" x2="212" y2="198.2" stroke="#333" stroke-width="1.0" />
<text x="211.3" y="201.19" font-size="8.3" text-anchor="end" fill="#111" stroke="#111" stroke-width="0.15" font-weight="normal" font-style="normal" >50</text>
<line x1="214.6" y1="172.2" x2="212" y2="172.2" stroke="#333" stroke-width="1.0" />
<text x="211.3" y="175.19" font-size="8.3" text-anchor="end" fill="#111" stroke="#111" stroke-width="0.15" font-weight="normal" font-style="normal" >75</text>
<line x1="214.6" y1="146.2" x2="212" y2="146.2" stroke="#333" stroke-width="1.0" />
<text x="211.3" y="149.19" font-size="8.3" text-anchor="end" fill="#111" stroke="#111" stroke-width="0.15" font-weight="normal" font-style="normal" >100</text>
<line x1="214.6" y1="237.2" x2="213" y2="237.2" stroke="#333" stroke-width="1.0" />
<line x1="214.6" y1="211.2" x2="213" y2="211.2" stroke="#333" stroke-width="1.0" />
<line x1="214.6" y1="185.2" x2="213" y2="185.2" stroke="#333" stroke-width="1.0" />
<line x1="214.6" y1="159.2" x2="213" y2="159.2" stroke="#333" stroke-width="1.0" />
<text x="0" y="0" font-size="9.5" text-anchor="middle" fill="#111" stroke="#111" stroke-width="0.15" transform="translate(192.6,194.7) rotate(-90)" dominant-baseline="central">Transmittance (%)</text>
<text x="279.7" y="271" font-size="9.5" text-anchor="middle" fill="#111" stroke="#111" stroke-width="0.15">Wave number (cm<tspan font-size="6" dy="-4">-1</tspan><tspan dy="4">)</tspan></text>
<text x="274.6" y="206.3" font-size="8.2" text-anchor="start" fill="#111" stroke="#111" stroke-width="0.15" font-weight="normal" font-style="normal" >gel fraction</text>
<line x1="218" y1="212.5" x2="236.8" y2="212.5" stroke="#F5C21B" stroke-width="1.3" />
<circle cx="227.4" cy="212.5" r="1.6" fill="#fff" stroke="#F5C21B" stroke-width="0.35"/>
<text x="239.2" y="215.5" font-size="8.2" text-anchor="start" fill="#111" stroke="#111" stroke-width="0.15" font-weight="normal" font-style="normal" >35 wt%</text>
<text x="273.2" y="215.5" font-size="8.2" text-anchor="start" fill="#111" stroke="#111" stroke-width="0.15" font-weight="normal" font-style="normal" >94.1%</text>
<line x1="218" y1="222.57" x2="236.8" y2="222.57" stroke="#3BA0DD" stroke-width="1.3" />
<circle cx="227.4" cy="222.57" r="1.6" fill="#fff" stroke="#3BA0DD" stroke-width="0.35"/>
<text x="239.2" y="225.57" font-size="8.2" text-anchor="start" fill="#111" stroke="#111" stroke-width="0.15" font-weight="normal" font-style="normal" >40 wt%</text>
<text x="273.2" y="225.57" font-size="8.2" text-anchor="start" fill="#111" stroke="#111" stroke-width="0.15" font-weight="normal" font-style="normal" >95.2%</text>
<line x1="218" y1="232.64" x2="236.8" y2="232.64" stroke="#1EAA50" stroke-width="1.3" />
<circle cx="227.4" cy="232.64" r="1.6" fill="#fff" stroke="#1EAA50" stroke-width="0.35"/>
<text x="239.2" y="235.64" font-size="8.2" text-anchor="start" fill="#111" stroke="#111" stroke-width="0.15" font-weight="normal" font-style="normal" >45 wt%</text>
<text x="273.2" y="235.64" font-size="8.2" text-anchor="start" fill="#111" stroke="#111" stroke-width="0.15" font-weight="normal" font-style="normal" >92.8%</text>
<line x1="218" y1="242.71" x2="236.8" y2="242.71" stroke="#F23A45" stroke-width="1.3" />
<circle cx="227.4" cy="242.71" r="1.6" fill="#fff" stroke="#F23A45" stroke-width="0.35"/>
<text x="239.2" y="245.71" font-size="8.2" text-anchor="start" fill="#111" stroke="#111" stroke-width="0.15" font-weight="normal" font-style="normal" >50 wt%</text>
<text x="273.2" y="245.71" font-size="8.2" text-anchor="start" fill="#111" stroke="#111" stroke-width="0.15" font-weight="normal" font-style="normal" >90.8%</text>
<text x="352.2" y="150.5" font-size="10.5" text-anchor="start" fill="#111" stroke="#111" stroke-width="0.2" font-weight="bold" font-style="normal" >(f)</text>
<path d="M388,172.8 C390,172.5 395.5,171.67 400,171 C404.5,170.33 410.33,169.5 415,168.8 C419.67,168.1 424.5,167.4 428,166.8 C431.5,166.2 433.83,165.73 436,165.2 C438.17,164.67 439.5,164.27 441,163.6 C442.5,162.93 443.67,162.13 445,161.2 C446.33,160.27 447.67,158.93 449,158 C450.33,157.07 451.5,156.22 453,155.6 C454.5,154.98 456,154.6 458,154.3 C460,154 459.67,154.1 465,153.8 C470.33,153.5 481.33,152.97 490,152.5 C498.67,152.03 512.5,151.25 517,151" fill="none" stroke="#F23A45" stroke-width="1.3" stroke-linejoin="round" />
<path d="M388,192.6 C390,192.5 395.5,192.27 400,192 C404.5,191.73 410.33,191.37 415,191 C419.67,190.63 424.83,190.3 428,189.8 C431.17,189.3 432,188.97 434,188 C436,187.03 438,185.5 440,184 C442,182.5 444.17,180.33 446,179 C447.83,177.67 449.33,176.67 451,176 C452.67,175.33 454.17,175.17 456,175 C457.83,174.83 458,174.8 462,175 C466,175.2 473.67,175.83 480,176.2 C486.33,176.57 493.83,176.87 500,177.2 C506.17,177.53 514.17,178.03 517,178.2" fill="none" stroke="#1EAA50" stroke-width="1.3" stroke-linejoin="round" />
<path d="M388,219.1 C390,218.8 396,217.9 400,217.3 C404,216.7 408.67,216 412,215.5 C415.33,215 417.33,214.92 420,214.3 C422.67,213.68 425.67,212.77 428,211.8 C430.33,210.83 432,209.63 434,208.5 C436,207.37 438.17,205.83 440,205 C441.83,204.17 443,203.92 445,203.5 C447,203.08 448.67,202.92 452,202.5 C455.33,202.08 458.67,201.7 465,201 C471.33,200.3 481.33,199.25 490,198.3 C498.67,197.35 512.5,195.8 517,195.3" fill="none" stroke="#3BA0DD" stroke-width="1.3" stroke-linejoin="round" />
<path d="M388,246 C390,245.55 396,244.17 400,243.3 C404,242.43 408.67,241.52 412,240.8 C415.33,240.08 417.33,239.7 420,239 C422.67,238.3 425.33,237.6 428,236.6 C430.67,235.6 433.67,234.05 436,233 C438.33,231.95 440,231.05 442,230.3 C444,229.55 445.33,229.13 448,228.5 C450.67,227.87 454.33,227.13 458,226.5 C461.67,225.87 464.67,225.48 470,224.7 C475.33,223.92 482.17,222.9 490,221.8 C497.83,220.7 512.5,218.72 517,218.1" fill="none" stroke="#F5C21B" stroke-width="1.3" stroke-linejoin="round" />
<rect x="388" y="146.3" width="128.6" height="104.2" fill="none" stroke="#333" stroke-width="1.3"/>
<line x1="406.69" y1="250.5" x2="406.69" y2="253.1" stroke="#333" stroke-width="1.0" />
<text x="406.69" y="261.2" font-size="8.3" text-anchor="middle" fill="#111" stroke="#111" stroke-width="0.15" font-weight="normal" font-style="normal" >-20</text>
<line x1="443.46" y1="250.5" x2="443.46" y2="253.1" stroke="#333" stroke-width="1.0" />
<text x="443.46" y="261.2" font-size="8.3" text-anchor="middle" fill="#111" stroke="#111" stroke-width="0.15" font-weight="normal" font-style="normal" >0</text>
<line x1="480.23" y1="250.5" x2="480.23" y2="253.1" stroke="#333" stroke-width="1.0" />
<text x="480.23" y="261.2" font-size="8.3" text-anchor="middle" fill="#111" stroke="#111" stroke-width="0.15" font-weight="normal" font-style="normal" >20</text>
<line x1="517" y1="250.5" x2="517" y2="253.1" stroke="#333" stroke-width="1.0" />
<text x="517" y="261.2" font-size="8.3" text-anchor="middle" fill="#111" stroke="#111" stroke-width="0.15" font-weight="normal" font-style="normal" >40</text>
<line x1="388.3" y1="250.5" x2="388.3" y2="252.1" stroke="#333" stroke-width="1.0" />
<line x1="425.07" y1="250.5" x2="425.07" y2="252.1" stroke="#333" stroke-width="1.0" />
<line x1="461.84" y1="250.5" x2="461.84" y2="252.1" stroke="#333" stroke-width="1.0" />
<line x1="498.61" y1="250.5" x2="498.61" y2="252.1" stroke="#333" stroke-width="1.0" />
<line x1="388" y1="160.8" x2="386" y2="160.8" stroke="#333" stroke-width="1.0" />
<line x1="388" y1="175.7" x2="386" y2="175.7" stroke="#333" stroke-width="1.0" />
<line x1="388" y1="190.5" x2="386" y2="190.5" stroke="#333" stroke-width="1.0" />
<line x1="388" y1="205.5" x2="386" y2="205.5" stroke="#333" stroke-width="1.0" />
<line x1="388" y1="220.3" x2="386" y2="220.3" stroke="#333" stroke-width="1.0" />
<line x1="388" y1="235.2" x2="386" y2="235.2" stroke="#333" stroke-width="1.0" />
<g transform="translate(377.6,0)">
<line x1="0" y1="169" x2="0" y2="184" stroke="#111" stroke-width="1.1" />
<path d="M-2.2,170 L0,164.8 L2.2,170 Z" fill="#111"/>
</g>
<text x="0" y="0" font-size="9.5" text-anchor="middle" fill="#111" stroke="#111" stroke-width="0.15" transform="translate(377.7,198.8) rotate(-90)" dominant-baseline="central">Endo</text>
<text x="453.3" y="270.3" font-size="9.5" text-anchor="middle" fill="#111" stroke="#111" stroke-width="0.15" font-weight="normal" font-style="normal" >Temperature (°C)</text>
<text x="392.5" y="167.3" font-size="7.9" text-anchor="start" fill="#111" stroke="#111" stroke-width="0.15" font-weight="normal" font-style="normal" >50 wt%</text>
<text x="392.5" y="188.6" font-size="7.9" text-anchor="start" fill="#111" stroke="#111" stroke-width="0.15" font-weight="normal" font-style="normal" >45 wt%</text>
<text x="392.5" y="212.4" font-size="7.9" text-anchor="start" fill="#111" stroke="#111" stroke-width="0.15" font-weight="normal" font-style="normal" >40 wt%</text>
<text x="392.5" y="239.1" font-size="7.9" text-anchor="start" fill="#111" stroke="#111" stroke-width="0.15" font-weight="normal" font-style="normal" >35 wt%</text>
<text x="517" y="161.1" font-size="8.0" text-anchor="end" fill="#111" stroke="#111" stroke-width="0.15" font-weight="normal" font-style="normal" >-1.7 °C</text>
<text x="517" y="185.6" font-size="8.0" text-anchor="end" fill="#111" stroke="#111" stroke-width="0.15" font-weight="normal" font-style="normal" >-5.9 °C</text>
<text x="517" y="208.2" font-size="8.0" text-anchor="end" fill="#111" stroke="#111" stroke-width="0.15" font-weight="normal" font-style="normal" >-10.5 °C</text>
<text x="517" y="229.5" font-size="8.0" text-anchor="end" fill="#111" stroke="#111" stroke-width="0.15" font-weight="normal" font-style="normal" >-11.3 °C</text>
</svg>
</body></html>
